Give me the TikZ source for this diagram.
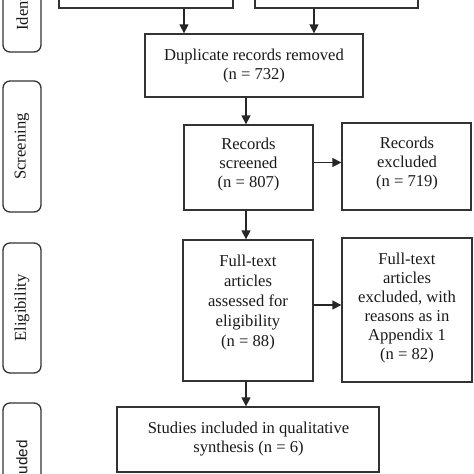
\documentclass[tikz,border=0pt]{standalone}
\usepackage{fontspec}
\setmainfont{Liberation Serif}
\newfontfamily\sidesans{Liberation Sans}
\usetikzlibrary{arrows.meta}
\begin{document}
\begin{tikzpicture}[x=1pt,y=-1pt,
  box/.style={draw=black!80, line width=1.3pt, rectangle, inner sep=0pt},
  txt/.style={align=center, inner sep=0pt, text=black!90, font=\fontsize{16.6}{19}\selectfont},
  side/.style={draw=black!80, line width=1.3pt, rounded corners=7pt, rectangle, rotate=90,
    inner sep=0pt, minimum height=38pt, text=black!90, font=\fontsize{16.6}{19}\selectfont},
  arr/.style={-{Triangle[length=9pt,width=9pt]}, line width=1.3pt, draw=black!85}]
\useasboundingbox (0,0) rectangle (474,474);
\begin{scope}
\clip (0,0) rectangle (474,474);
\coordinate (col) at (246,0);
% main boxes
\node[box, minimum width=174pt, minimum height=80pt] (topL) at (146,-32) {};
\node[box, minimum width=163pt, minimum height=80pt] (topR) at (336.5,-32) {};
\node[box, minimum width=218pt, minimum height=63pt] (dup) at (254,65.5) {};
\node[box, minimum width=129pt, minimum height=85pt] (scr) at (248.5,167.5) {};
\node[box, minimum width=129pt, minimum height=87pt] (excl) at (406.5,166.5) {};
\node[box, minimum width=130pt, minimum height=141pt] (ft) at (248,310.5) {};
\node[box, minimum width=130pt, minimum height=144pt] (fte) at (407,310) {};
\node[box, minimum width=262pt, minimum height=65pt] (stud) at (248,439.5) {};
% texts
\node[txt] (tdup) at (254,66.5) {Duplicate records removed\\(n = 732)};
\node[txt] (tscr) at (248.5,165) {Records\\screened\\(n = 807)};
\node[txt] (texcl) at (407,163.5) {Records\\excluded\\(n = 719)};
\node[txt, font=\fontsize{16.6}{20}\selectfont] (tft) at (248,303) {Full-text\\articles\\assessed for\\eligibility\\(n = 88)};
\node[txt] (tfte) at (407,308) {Full-text\\articles\\excluded, with\\reasons as in\\Appendix 1\\(n = 82)};
\node[txt] (tstud) at (248.5,439.5) {Studies included in qualitative\\synthesis (n = 6)};
% side labels
\node[side, minimum width=132pt] (sid) at (22,-14) {Identification};
\node[side, minimum width=131pt] (sscr) at (22,146.5) {Screening};
\node[side, minimum width=130pt] (selig) at (22,308) {Eligibility};
\node[side, minimum width=132pt, font=\sidesans\fontsize{15.3}{18}\selectfont] (sinc) at (22,469) {Included};
% connectors
\draw[arr] (topL.south -| 184,0) -- (dup.north -| 184,0);
\draw[arr] (topR.south -| 314,0) -- (dup.north -| 314,0);
\draw[arr] (dup.south -| col) -- (scr.north -| col);
\draw[arr] ([yshift=5pt]scr.east) -- ([yshift=5pt]scr.east -| excl.west);
\draw[arr] (scr.south -| col) -- (ft.north -| col);
\draw[arr] ([yshift=5.5pt]ft.east) -- ([yshift=5.5pt]ft.east -| fte.west);
\draw[arr] (ft.south -| col) -- (stud.north -| col);
\end{scope}
\end{tikzpicture}
\end{document}
